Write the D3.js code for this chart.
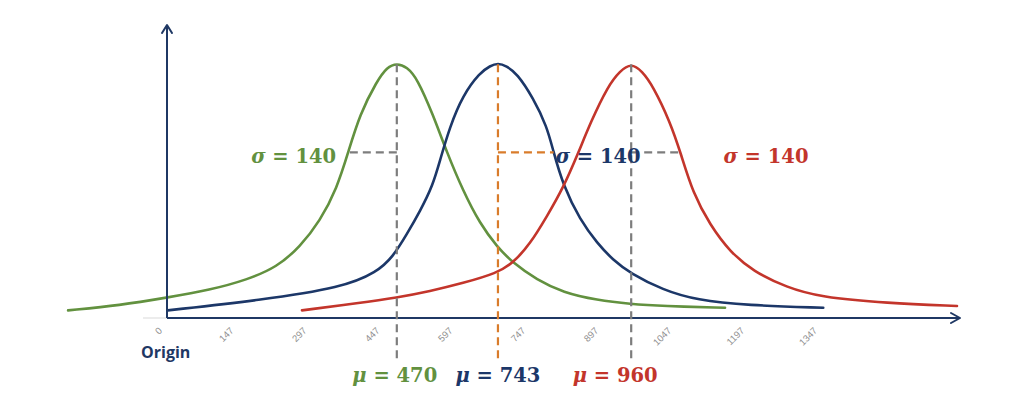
<!DOCTYPE html>
<html>
<head>
<meta charset="utf-8">
<script src="https://cdn.jsdelivr.net/npm/d3@7"></script>
<style>
  html, body { margin: 0; padding: 0; background: #fff; }
  svg { display: block; }
</style>
</head>
<body>
<svg id="chart" width="1024" height="405"></svg>
<script>
// ---------------- data ----------------
const tickValues = [0, 147, 297, 447, 597, 747, 897, 1047, 1197, 1347];
const seriesNames = ["green", "blue", "red"];
const means = [470, 743, 960];
const sigmas = [140, 140, 140];

// curve samples: x in axis units, y in % of peak height
const greenX = [-189, -82, 14, 103, 179, 241, 288, 329, 364, 387, 411, 446, 467, 487, 508, 529, 561, 590, 623, 658, 693, 726, 775, 829, 899, 967, 1034, 1162];
const greenY = [3, 5, 8, 11, 15, 20, 28, 38, 51, 65, 80, 93, 98.5, 100, 98.5, 94, 80, 65, 50, 37, 28, 21.6, 15, 10, 7, 5.5, 4.7, 4];

const blueX = [16, 206, 376, 446, 479, 508, 535, 561, 576, 596, 623, 658, 679, 695, 712, 734, 767, 796, 808, 829, 864, 899, 932, 967, 1034, 1104, 1207, 1364];
const blueY = [3, 7, 12, 18, 24, 33, 42, 52, 62, 75, 87.5, 96.3, 99, 100, 99, 96, 86.5, 75, 66, 52, 38.4, 29.4, 22.7, 17.6, 11, 7, 5, 4];

const redX = [292, 411, 487, 555, 623, 693, 726, 761, 796, 829, 860, 886, 921, 946, 969, 991, 1014, 1049, 1071, 1096, 1131, 1172, 1220, 1289, 1357, 1495, 1639];
const redY = [3, 5.9, 8, 10.5, 13.7, 17.6, 21.6, 29, 40, 51, 64.7, 77, 91, 97, 100, 97, 91, 77, 64.6, 49, 36.6, 26, 18.3, 12, 8.2, 5.8, 4.7];

const sigmaLevel = 65;        // % of peak where the sigma bar is drawn
const sigmaSide = [-1, 1, 1]; // which side of the peak the sigma bar goes

// ---------------- styles / layout ----------------
const colors = ["#62913f", "#1c3768", "#c3352b"];
const meanLineColors = ["#7d7d7d", "#d97c2b", "#7d7d7d"];
const sigmaLineColors = ["#7d7d7d", "#d97c2b", "#7d7d7d"];
const axisColor = "#1f3864";

const svg = d3.select("#chart");
const x = d3.scaleLinear().domain([0, 1347]).range([160, 815]);
const y = d3.scaleLinear().domain([0, 115]).range([318, 25]);

const originX = 167, xAxisEnd = 960, yAxisTop = 25;
const axisY = y(0);

// faint extension of the baseline left of the origin
svg.append("line")
  .attr("x1", 143).attr("x2", originX).attr("y1", axisY).attr("y2", axisY)
  .attr("stroke", "#e6e6e6").attr("stroke-width", 1.5);

// curves
const curves = [
  greenX.map((d, i) => [d, greenY[i]]),
  blueX.map((d, i) => [d, blueY[i]]),
  redX.map((d, i) => [d, redY[i]])
];
const line = d3.line().x(d => x(d[0])).y(d => y(d[1])).curve(d3.curveBasis);

svg.append("g").selectAll("path").data(curves).join("path")
  .attr("d", line)
  .attr("fill", "none")
  .attr("stroke", (d, i) => colors[i])
  .attr("stroke-width", 2.6)
  .attr("stroke-linejoin", "round")
  .attr("stroke-linecap", "round");

// axes
svg.append("line")
  .attr("x1", originX).attr("x2", originX).attr("y1", axisY).attr("y2", yAxisTop + 1)
  .attr("stroke", axisColor).attr("stroke-width", 2);
svg.append("path")
  .attr("d", `M${originX - 5},${yAxisTop + 8} L${originX},${yAxisTop} L${originX + 5},${yAxisTop + 8}`)
  .attr("fill", "none").attr("stroke", axisColor).attr("stroke-width", 2)
  .attr("stroke-linejoin", "round").attr("stroke-linecap", "round");
svg.append("line")
  .attr("x1", originX).attr("x2", xAxisEnd - 1).attr("y1", axisY).attr("y2", axisY)
  .attr("stroke", axisColor).attr("stroke-width", 2);
svg.append("path")
  .attr("d", `M${xAxisEnd - 9},${axisY - 5} L${xAxisEnd},${axisY} L${xAxisEnd - 9},${axisY + 5}`)
  .attr("fill", "none").attr("stroke", axisColor).attr("stroke-width", 2)
  .attr("stroke-linejoin", "round").attr("stroke-linecap", "round");

// tick labels
const xAxis = d3.axisBottom(x).tickValues(tickValues).tickSize(0).tickFormat(d3.format("d"));
const gx = svg.append("g").attr("transform", `translate(0,${axisY + 11})`).call(xAxis);
gx.select(".domain").remove();
gx.selectAll("text")
  .attr("x", 0).attr("y", 0).attr("dy", "0.35em")
  .attr("transform", "rotate(-45)")
  .attr("text-anchor", "end")
  .attr("fill", "#8f8f8f")
  .style("font-family", "'Liberation Sans', Arial, sans-serif")
  .style("font-size", "9.5px");

svg.append("text")
  .attr("x", 141).attr("y", 358)
  .attr("fill", axisColor)
  .style("font-family", "'Open Sans', sans-serif")
  .style("font-weight", 700)
  .style("font-size", "16px")
  .text("Origin");

// peaks and sigma crossings from the curve data
const peaks = curves.map(c => c.reduce((a, b) => (b[1] > a[1] ? b : a)));
function crossing(c, side) {
  const p = c.findIndex(d => d[1] === d3.max(c, e => e[1]));
  for (let i = p; i >= 0 && i < c.length; i += side) {
    const j = i + side;
    if (j < 0 || j >= c.length) break;
    if ((c[i][1] - sigmaLevel) * (c[j][1] - sigmaLevel) <= 0) {
      const t = (c[i][1] - sigmaLevel) / (c[i][1] - c[j][1]);
      return c[i][0] + t * (c[j][0] - c[i][0]);
    }
  }
  return c[p][0];
}
const crosses = curves.map((c, i) => crossing(c, sigmaSide[i]));

// mean lines
svg.append("g").selectAll("line").data(peaks).join("line")
  .attr("x1", d => x(d[0])).attr("x2", d => x(d[0]))
  .attr("y1", d => y(d[1]) + 1).attr("y2", 360)
  .attr("stroke", (d, i) => meanLineColors[i])
  .attr("stroke-width", 2.2)
  .attr("stroke-dasharray", "8,5");

// sigma bars
svg.append("g").selectAll("line").data(peaks).join("line")
  .attr("x1", d => x(d[0])).attr("x2", (d, i) => x(crosses[i]))
  .attr("y1", y(sigmaLevel)).attr("y2", y(sigmaLevel))
  .attr("stroke", (d, i) => sigmaLineColors[i])
  .attr("stroke-width", 2.2)
  .attr("stroke-dasharray", "8,5");

// labels
const serif = "'DejaVu Serif', serif";
const sigmaAnchor = ["end", "start", "start"];
const sigmaDx = [-12, 2, 43];
const muDx = [-2, 0, -16];

function mathLabel(sel, sym, val) {
  sel.append("tspan").style("font-style", "italic").text(sym);
  sel.append("tspan").text(" = " + val);
}

sigmas.forEach((s, i) => {
  const t = svg.append("text")
    .attr("x", x(crosses[i]) + sigmaDx[i]).attr("y", 163)
    .attr("text-anchor", sigmaAnchor[i])
    .attr("fill", colors[i])
    .style("font-family", serif).style("font-weight", 700).style("font-size", "19.5px");
  mathLabel(t, "σ", s);
});
means.forEach((m, i) => {
  const t = svg.append("text")
    .attr("x", x(peaks[i][0]) + muDx[i]).attr("y", 382)
    .attr("text-anchor", "middle")
    .attr("fill", colors[i])
    .style("font-family", serif).style("font-weight", 700).style("font-size", "19.5px");
  mathLabel(t, "μ", m);
});
</script>
</body>
</html>
